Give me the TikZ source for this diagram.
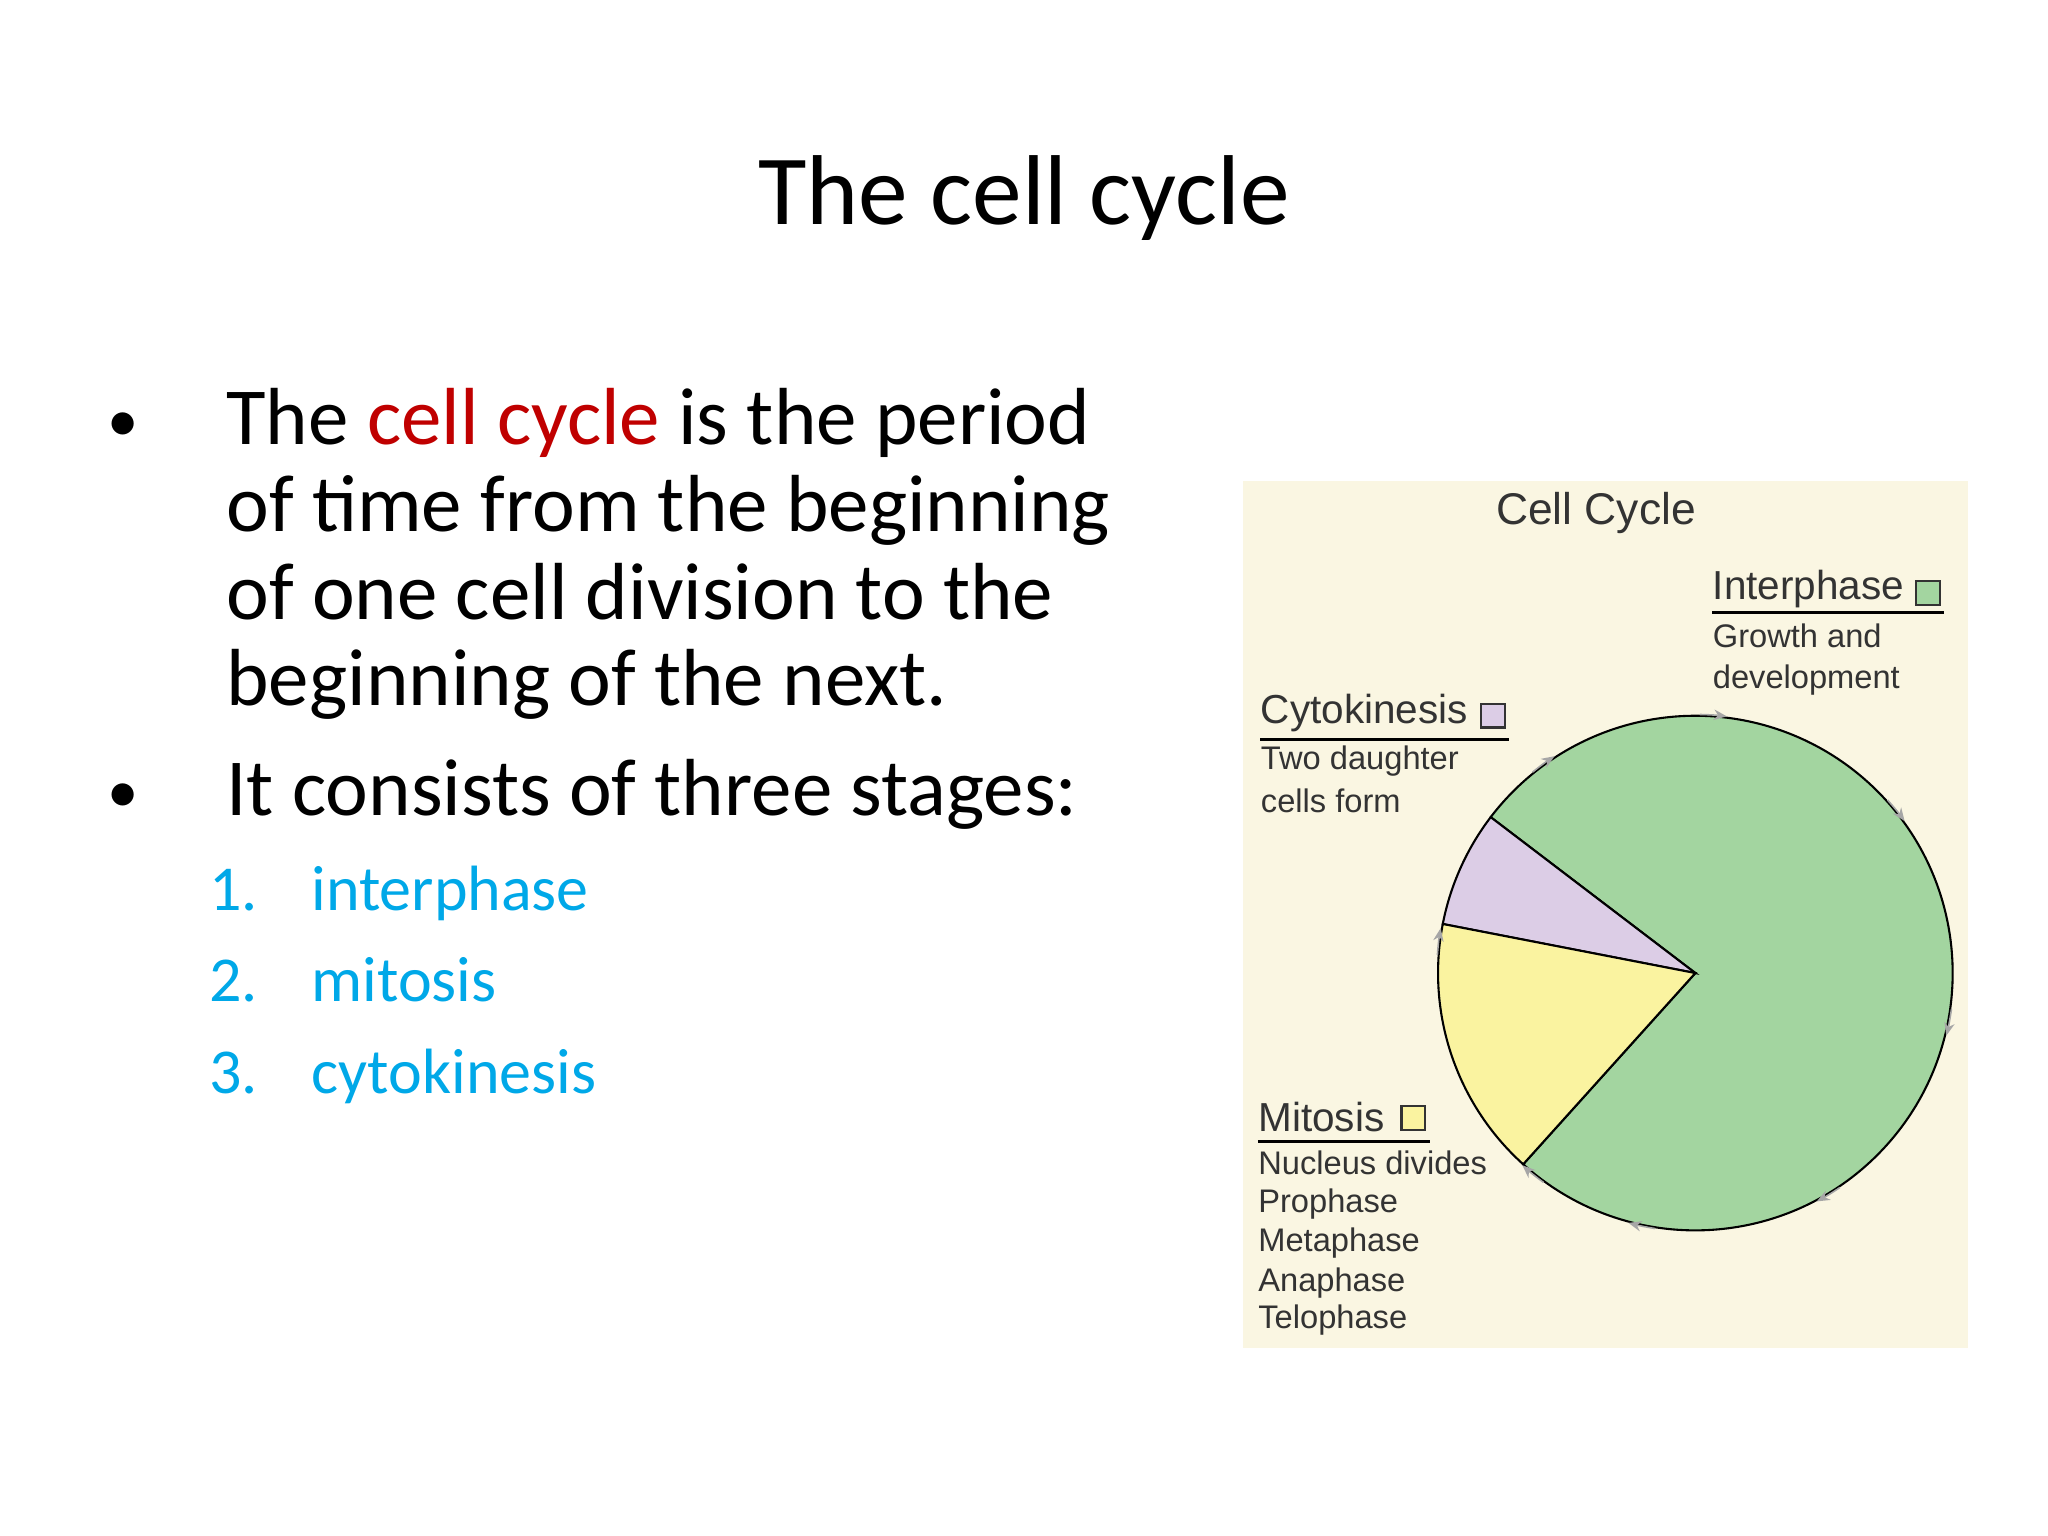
\documentclass[tikz,border=0pt]{standalone}
\usepackage{fontspec}
\setmainfont{Carlito}
\newfontfamily\arialf{Liberation Sans}
\usetikzlibrary{arrows.meta}
\definecolor{cred}{HTML}{C00000}
\definecolor{cblue}{HTML}{00A8E8}
\definecolor{panel}{HTML}{FAF6E2}
\definecolor{pgreen}{HTML}{A3D5A0}
\definecolor{ppurple}{HTML}{DCCDE6}
\definecolor{pyellow}{HTML}{FAF3A0}
\definecolor{lbl}{HTML}{333333}
\tikzset{
 body/.style={anchor=base west,inner sep=0pt,font=\fontsize{31}{36}\selectfont},
 num/.style={anchor=base west,inner sep=0pt,text=cblue,font=\fontsize{24.5}{29}\selectfont},
 head/.style={anchor=west,inner sep=0pt,text=lbl,font=\arialf\fontsize{15.5}{18}\selectfont},
 sub/.style={anchor=west,inner sep=0pt,text=lbl,font=\arialf\fontsize{12.5}{15}\selectfont},
 keybox/.style={draw=lbl,line width=0.8pt,minimum size=9pt,inner sep=0pt},
 ul/.style={draw=black,line width=1pt},
 tickarr/.style={draw=gray!70,line width=0.6pt,-{Stealth[length=5pt,width=4pt]}}
}
\begin{document}
\begin{tikzpicture}[x=0.5pt,y=-0.5pt]
\useasboundingbox (0,0) rectangle (1568,1176);
\fill[white] (0,0) rectangle (1568,1176);
\node[anchor=base,inner sep=0pt,font=\fontsize{38}{44}\selectfont] (title) at (784,172) {The cell cycle};
\node[body,font=\fontsize{24}{30}\selectfont] (b1) at (82,338) {•};
\node[body] (t1) at (173,340) {The \textcolor{cred}{cell cycle} is the period};
\node[body] (t2) at (173,407) {of time from the beginning};
\node[body] (t3) at (173,474) {of one cell division to the};
\node[body] (t4) at (173,540) {beginning of the next.};
\node[body,font=\fontsize{24}{30}\selectfont] (b2) at (82,622) {•};
\node[body] (t5) at (173,624) {It consists of three stages:};
\node[num] (n1) at (160,697) {1.};
\node[num] (l1) at (238,697) {interphase};
\node[num] (n2) at (160,767) {2.};
\node[num] (l2) at (238,767) {mitosis};
\node[num] (n3) at (160,837) {3.};
\node[num] (l3) at (238,837) {cytokinesis};
% panel
\fill[panel] (952,368) rectangle (1507,1032);
\coordinate (c) at (1298,745);
\def\R{197}
\filldraw[fill=pgreen,draw=black,line width=0.8pt] (c) -- ++(-228:\R) arc[start angle=-228,end angle=-502.7,radius=\R] -- cycle;
\filldraw[fill=ppurple,draw=black,line width=0.8pt] (c) -- ++(-142.7:\R) arc[start angle=-142.7,end angle=-169,radius=\R] -- cycle;
\filldraw[fill=pyellow,draw=black,line width=0.8pt] (c) -- ++(-169:\R) arc[start angle=-169,end angle=-228,radius=\R] -- cycle;
\foreach \a in {125,85,38,-12,-60,-103,-130,172}{
 \draw[tickarr] (c) ++(-\a-4:\R+1) arc[start angle=-\a-4,end angle=-\a+2,radius=\R+1];
}
\node[inner sep=0pt,text=lbl,font=\arialf\fontsize{17}{20}\selectfont] (ct) at (1222,393) {Cell Cycle};
\node[head] (ih) at (1311,451) {Interphase};
\node[keybox,fill=pgreen] (ib) at (1476,454) {};
\draw[ul] (1311,469) -- (1488,469);
\node[sub] (i1) at (1311,487) {Growth and};
\node[sub] (i2) at (1311,521) {development};
\node[head] (ch) at (965,546) {Cytokinesis};
\node[keybox,fill=ppurple] (cb) at (1143,548) {};
\draw[ul] (965,566) -- (1155,566);
\node[sub] (c1) at (965,583) {Two daughter};
\node[sub] (c2) at (965,613) {cells form};
\node[head] (mh) at (963,855) {Mitosis};
\node[keybox,fill=pyellow] (mb) at (1082,856) {};
\draw[ul] (963,874) -- (1095,874);
\node[sub] (m1) at (963,890) {Nucleus divides};
\node[sub] (m2) at (963,922) {Prophase};
\node[sub] (m3) at (963,952) {Metaphase};
\node[sub] (m4) at (963,982) {Anaphase};
\node[sub] (m5) at (963,1011) {Telophase};
\end{tikzpicture}
\end{document}
